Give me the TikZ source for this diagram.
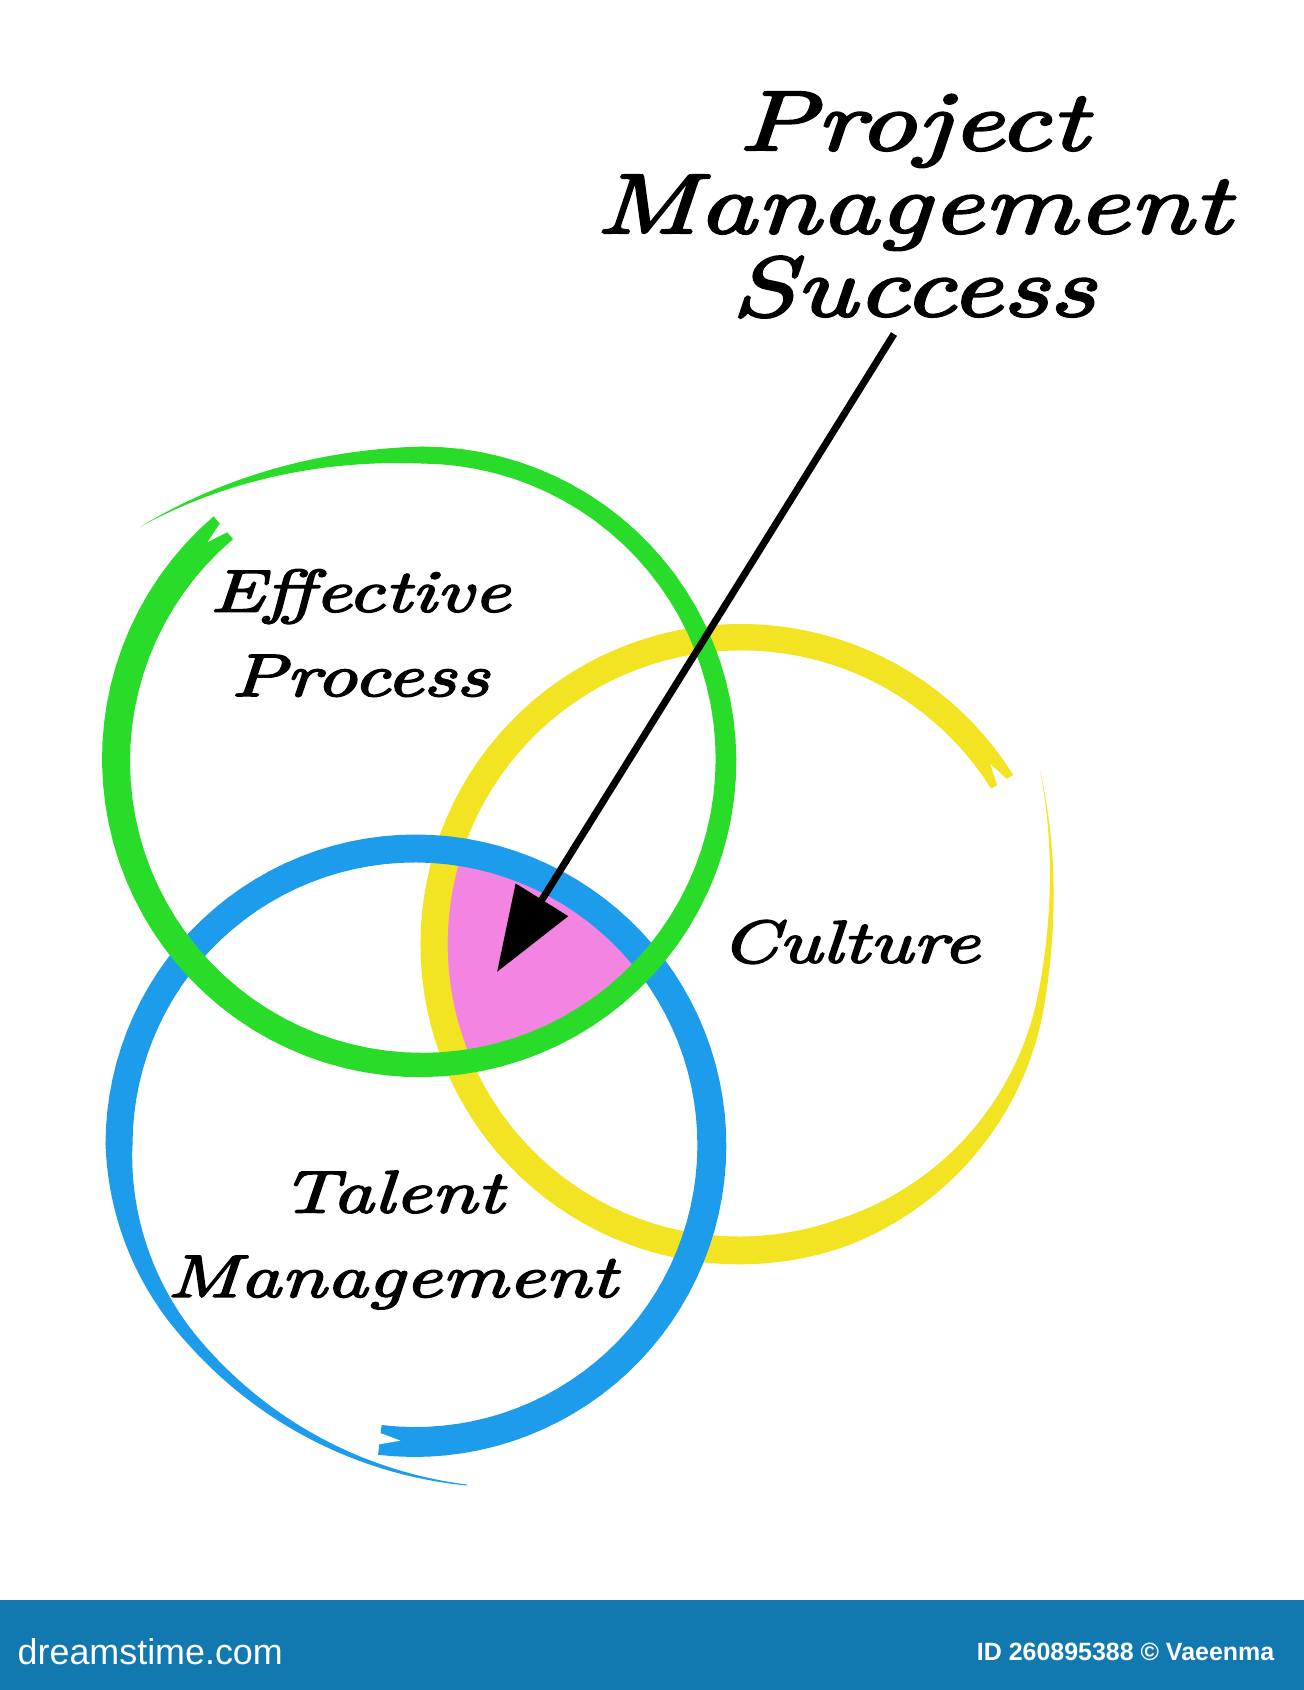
\documentclass[tikz,border=0pt]{standalone}
\usepackage{fontspec}
\usetikzlibrary{arrows.meta}
\newfontfamily\handfont{lmroman10-italic.otf}[FakeStretch=1.35,FakeBold=3]
\newfontfamily\markfont{Liberation Sans}
\definecolor{ringgreen}{RGB}{42,220,42}
\definecolor{ringyellow}{RGB}{242,228,35}
\definecolor{ringblue}{RGB}{30,156,236}
\definecolor{corepink}{RGB}{244,132,226}
\definecolor{barblue}{RGB}{17,120,176}
\tikzset{
  declare function={brushs(\t)=(\t-(\ba))/((\bb)-(\ba));
    brushr(\t)=\rb+((\ra)-(\rb))*(1-brushs(\t))*(1-brushs(\t));
    brushw(\t)=\wa+((\wb)-(\wa))*brushs(\t);},
  hand/.style={font=\handfont\fontsize{17}{24}\selectfont, align=center, inner sep=0pt},
  handbig/.style={font=\handfont\fontsize{24}{23.6}\selectfont, align=center, inner sep=0pt},
  footertext/.style={text=white, inner sep=0pt},
  pointer/.style={line width=2pt, -{Triangle[length=8.5mm,width=6mm]}}
}
% brush stroke: centre x, centre y, from angle, to angle, from radius, to radius, from width, to width, colour
\newcommand{\brush}[9]{%
  \def\ba{#3}\def\bb{#4}\def\ra{#5}\def\rb{#6}\def\wa{#7}\def\wb{#8}%
  \fill[#9] plot[domain=#3:#4,samples=90]
      ({#1+(brushr(\x)+brushw(\x)/2)*cos(\x)},{#2+(brushr(\x)+brushw(\x)/2)*sin(\x)})
    -- plot[domain=#4:#3,samples=90]
      ({#1+(brushr(\x)-brushw(\x)/2)*cos(\x)},{#2+(brushr(\x)-brushw(\x)/2)*sin(\x)})
    -- cycle;}
% split end of a stroke: centre x, centre y, end angle, radius
\newcommand{\notch}[4]{%
  \fill[white] ({#1+#4*cos(#3-4)},{#2+#4*sin(#3-4)})
    -- ({#1+(#4+7)*cos(#3+1)},{#2+(#4+7)*sin(#3+1)})
    -- ({#1+(#4-7)*cos(#3+1)},{#2+(#4-7)*sin(#3+1)}) -- cycle;}
\begin{document}
\begin{tikzpicture}[x=0.01cm,y=-0.01cm]
  \useasboundingbox (0,0) rectangle (1304,1690);
  \coordinate (greenc) at (421,760);
  \coordinate (yellowc) at (741,945);
  \coordinate (bluec) at (415,1145);
  % Pink core
  \begin{scope}
    \clip (greenc) circle (305);
    \clip (yellowc) circle (305);
    \fill[corepink] (bluec) circle (296);
  \end{scope}
  % Culture ring
  \brush{741}{945}{-30.6}{10.5}{347}{305}{0}{8}{ringyellow}
  \brush{741}{945}{10}{70.5}{305}{305}{8}{28}{ringyellow}
  \brush{741}{945}{70}{328}{305}{308}{28}{26}{ringyellow}
  \notch{741}{945}{328}{308}
  % Talent ring
  \brush{415}{1145}{81.3}{140.5}{344}{296}{1}{12}{ringblue}
  \brush{415}{1145}{140}{180.5}{296}{296}{12}{27}{ringblue}
  \brush{415}{1145}{180}{456.8}{296}{297}{27}{30}{ringblue}
  \notch{415}{1145}{456.8}{296}
  % Process ring
  \brush{421}{760}{219.7}{270.5}{365}{305}{0}{17}{ringgreen}
  \brush{421}{760}{270}{589.6}{305}{305}{17}{30}{ringgreen}
  \notch{421}{760}{589.6}{305}
  % Labels
  \node[handbig] (title) at (913,205) {Project\\Management\\Success};
  \node[hand] (process) at (360,633) {Effective\\Process};
  \node[hand] (culture) at (850,942) {Culture};
  \node[hand] (talent) at (392,1240) {Talent\\Management};
  % Arrow
  \coordinate (tail) at (894,334);
  \coordinate (core) at (497,972);
  \draw[pointer] (tail) -- (core);
  % Footer
  \fill[barblue] (0,1600) rectangle (1304,1690);
  \node[footertext, anchor=west, font=\markfont\fontsize{10.2}{12}\selectfont] (site) at (17,1652) {dreamstime.com};
  \node[footertext, anchor=east, font=\markfont\bfseries\fontsize{7.1}{9}\selectfont] (stockid) at (1275,1652) {ID 260895388 © Vaeenma};
\end{tikzpicture}
\end{document}
